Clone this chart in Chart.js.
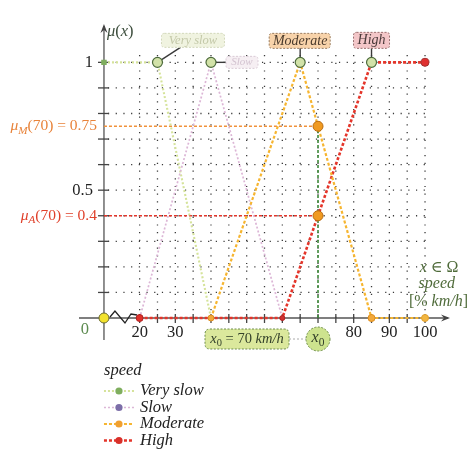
<!DOCTYPE html>
<html><head><meta charset="utf-8">
<script src="https://cdn.jsdelivr.net/npm/chart.js@4.4.1/dist/chart.umd.min.js"></script>
<style>html,body{margin:0;padding:0;background:#fff;}canvas{display:block;}</style>
</head><body>
<canvas id="c" width="474" height="474" style="width:474px;height:474px"></canvas>
<script>
// ---- data ----
const seriesNames = ['Very slow', 'Slow', 'Moderate', 'High'];
const verySlowX = [0, 25, 40];
const verySlowY = [1, 1, 0];
const slowX = [20, 40, 60];
const slowY = [0, 1, 0];
const moderateX = [40, 65, 85, 100];
const moderateY = [0, 1, 0, 0];
const highX = [20, 60, 85, 100];
const highY = [0, 0, 1, 1];
const x0Value = 70;
const muModerate = 0.75;
const muHigh = 0.4;
const xTickLabels = [20, 30, 80, 90, 100];
const xTickMarks = [20, 25, 30, 35, 40, 45, 50, 55, 60, 65, 70, 75, 80, 85, 90, 95, 100];
const yGridValues = [0.1, 0.2, 0.3, 0.4, 0.5, 0.6, 0.7, 0.8, 0.9, 1.0];
const yTickLabels = [0.5, 1];

// axis break: 0..20 is compressed
function bx(v) { return v >= 20 ? v : 10 + v * 0.5; }
function pts(xs, ys) { return xs.map((x, i) => ({ x: bx(x), y: ys[i] })); }

const SERIF = "'Liberation Serif','DejaVu Serif',serif";
const peakBg = '#d2e2a8', peakBorder = '#4d6b3c';

const lineColors = ['#d5e39a', '#dcb6d6', '#f6b530', '#e4352a'];
const markColors = ['#7fae5e', '#7c6ea8', '#f0a030', '#d9302a'];

const datasets = [
  { label: seriesNames[2], data: pts(moderateX, moderateY), borderColor: lineColors[2], borderWidth: 2.2, borderDash: [3, 2],
    pointRadius: [3, 5, 3.5, 3.5], pointBackgroundColor: ['#f2a93b', peakBg, '#f2a93b', '#f2b640'],
    pointBorderColor: ['#e09020', peakBorder, '#e09020', '#e0a030'], pointBorderWidth: [1, 1.2, 1, 1], order: 1 },
  { label: seriesNames[3], data: pts(highX, highY), borderColor: lineColors[3], borderWidth: 2.6, borderDash: [3, 2],
    pointRadius: [3.5, 2.5, 5, 4], pointBackgroundColor: ['#e0302a', '#d03030', peakBg, '#e03030'],
    pointBorderColor: ['#b02020', '#b02020', peakBorder, '#a03030'], pointBorderWidth: [1, 1, 1.2, 1], order: 2 },
  { label: seriesNames[1], data: pts(slowX, slowY), borderColor: lineColors[1], borderWidth: 1.7, borderDash: [2, 2],
    pointRadius: [0, 5, 0], pointBackgroundColor: peakBg, pointBorderColor: peakBorder, pointBorderWidth: 1.2, order: 3 },
  { label: seriesNames[0], data: pts(verySlowX, verySlowY), borderColor: lineColors[0], borderWidth: 2.1, borderDash: [2, 2],
    pointRadius: [3, 5, 0], pointStyle: ['rect', 'circle', 'circle'], pointBackgroundColor: ['#7fae5e', peakBg, peakBg],
    pointBorderColor: ['#7fae5e', peakBorder, peakBorder], pointBorderWidth: 1.2, order: 4 },
  // guide lines at x0
  { label: 'guideM', data: [{ x: bx(0), y: muModerate }, { x: x0Value, y: muModerate }], borderColor: '#f0913a', borderWidth: 1.3,
    borderDash: [3, 2], pointRadius: 0, order: 6 },
  { label: 'guideA', data: [{ x: bx(0), y: muHigh }, { x: x0Value, y: muHigh }], borderColor: '#e4352a', borderWidth: 1.3,
    borderDash: [3, 2], pointRadius: 0, order: 6 },
  { label: 'guideX', data: [{ x: x0Value, y: 0 }, { x: x0Value, y: muModerate }], borderColor: '#3f8a3a', borderWidth: 1.6,
    borderDash: [3, 2], pointRadius: 0, order: 5 },
  { label: 'x0pts', data: [{ x: x0Value, y: muModerate }, { x: x0Value, y: muHigh }], showLine: false, pointRadius: 5,
    pointBackgroundColor: '#f09a20', pointBorderColor: '#b86a10', pointBorderWidth: 1, order: 0 }
];

function font(size, italic) { return (italic ? 'italic ' : '') + size + 'px ' + SERIF; }

// parts: [text, style] ; style: 'r','i','sr','si'
function rich(ctx, parts, x, y, align, color, size) {
  const sub = size * 0.72;
  let w = 0;
  parts.forEach(p => { ctx.font = font(p[1][0] === 's' ? sub : size, p[1].indexOf('i') >= 0); w += ctx.measureText(p[0]).width; });
  let sx = align === 'right' ? x - w : align === 'center' ? x - w / 2 : x;
  ctx.fillStyle = color; ctx.textBaseline = 'middle'; ctx.textAlign = 'left';
  parts.forEach(p => {
    const isSub = p[1][0] === 's';
    ctx.font = font(isSub ? sub : size, p[1].indexOf('i') >= 0);
    ctx.fillText(p[0], sx, y + (isSub ? size * 0.28 : 0));
    sx += ctx.measureText(p[0]).width;
  });
}

function roundRect(ctx, x, y, w, h, r, fill, stroke) {
  ctx.beginPath();
  ctx.moveTo(x + r, y); ctx.lineTo(x + w - r, y); ctx.quadraticCurveTo(x + w, y, x + w, y + r);
  ctx.lineTo(x + w, y + h - r); ctx.quadraticCurveTo(x + w, y + h, x + w - r, y + h);
  ctx.lineTo(x + r, y + h); ctx.quadraticCurveTo(x, y + h, x, y + h - r);
  ctx.lineTo(x, y + r); ctx.quadraticCurveTo(x, y, x + r, y); ctx.closePath();
  ctx.fillStyle = fill; ctx.fill();
  ctx.setLineDash([2, 1.5]); ctx.strokeStyle = stroke; ctx.lineWidth = 1; ctx.stroke(); ctx.setLineDash([]);
}

const decor = {
  id: 'decor',
  beforeDatasetsDraw(chart) {
    const ctx = chart.ctx, xs = chart.scales.x, ys = chart.scales.y;
    const X = v => xs.getPixelForValue(v), Y = v => ys.getPixelForValue(v);
    ctx.save();
    // grid
    ctx.strokeStyle = '#3a3a3a'; ctx.lineWidth = 1.3; ctx.setLineDash([1.2, 6.5]);
    xTickMarks.forEach(v => { ctx.beginPath(); ctx.moveTo(X(v), Y(0)); ctx.lineTo(X(v), Y(1.04)); ctx.stroke(); });
    yGridValues.forEach(v => { ctx.beginPath(); ctx.moveTo(X(bx(0)) + 4, Y(v)); ctx.lineTo(X(100) + 1, Y(v)); ctx.stroke(); });
    ctx.setLineDash([]);
    // axes
    ctx.strokeStyle = '#555'; ctx.lineWidth = 1.3;
    const ox = X(bx(0)), oy = Y(0);
    ctx.beginPath(); ctx.moveTo(X(3), oy); ctx.lineTo(X(107) - 2, oy); ctx.stroke();
    ctx.beginPath(); ctx.moveTo(ox, Y(-0.086)); ctx.lineTo(ox, Y(1.15) + 2); ctx.stroke();
    ctx.fillStyle = '#444';
    ctx.beginPath(); ctx.moveTo(X(107), oy); ctx.lineTo(X(107) - 9, oy - 3.5); ctx.lineTo(X(107) - 6, oy); ctx.lineTo(X(107) - 9, oy + 3.5); ctx.closePath(); ctx.fill();
    ctx.beginPath(); ctx.moveTo(ox, Y(1.15)); ctx.lineTo(ox - 3.5, Y(1.15) + 9); ctx.lineTo(ox, Y(1.15) + 6); ctx.lineTo(ox + 3.5, Y(1.15) + 9); ctx.closePath(); ctx.fill();
    // ticks
    ctx.strokeStyle = '#444'; ctx.lineWidth = 1.3;
    xTickMarks.forEach(v => { ctx.beginPath(); ctx.moveTo(X(v), oy - 4); ctx.lineTo(X(v), oy + 5); ctx.stroke(); });
    yGridValues.forEach(v => { ctx.beginPath(); ctx.moveTo(ox - 6, Y(v)); ctx.lineTo(ox + 5, Y(v)); ctx.stroke(); });
    // axis-break zigzag
    ctx.strokeStyle = '#222'; ctx.lineWidth = 1.3;
    ctx.beginPath(); ctx.moveTo(ox + 6, oy - 1); ctx.lineTo(ox + 11, oy - 7); ctx.lineTo(ox + 21, oy + 5);
    ctx.lineTo(ox + 27, oy - 4); ctx.lineTo(ox + 33, oy - 3); ctx.stroke();
    // connectors of annotation boxes
    ctx.strokeStyle = '#3a3a3a'; ctx.lineWidth = 1.4;
    ctx.beginPath(); ctx.moveTo(X(25), Y(1)); ctx.lineTo(X(25) + 23, Y(1) - 15); ctx.stroke();
    ctx.beginPath(); ctx.moveTo(X(40), Y(1)); ctx.lineTo(X(40) + 16, Y(1)); ctx.stroke();
    ctx.beginPath(); ctx.moveTo(X(65), Y(1)); ctx.lineTo(X(65), Y(1) - 16); ctx.stroke();
    ctx.beginPath(); ctx.moveTo(X(85), Y(1)); ctx.lineTo(X(85), Y(1) - 16); ctx.stroke();
    ctx.restore();
  },
  afterDraw(chart) {
    const ctx = chart.ctx, xs = chart.scales.x, ys = chart.scales.y;
    const X = v => xs.getPixelForValue(v), Y = v => ys.getPixelForValue(v);
    const ox = X(bx(0)), oy = Y(0);
    ctx.save();
    // origin marker
    ctx.beginPath(); ctx.arc(ox, oy, 5, 0, Math.PI * 2); ctx.fillStyle = '#f2e22c'; ctx.fill();
    ctx.strokeStyle = '#6a6a30'; ctx.lineWidth = 1; ctx.stroke();
    // x tick labels
    xTickLabels.forEach(v => rich(ctx, [[String(v), 'r']], X(v), oy + 15, 'center', '#222', 16.5));
    rich(ctx, [['0', 'r']], ox - 19, oy + 12, 'center', '#5b8a4e', 16.5);
    // y labels
    yTickLabels.forEach(v => rich(ctx, [[String(v), 'r']], ox - 11, Y(v), 'right', '#222', 16.5));
    rich(ctx, [['μ', 'i'], ['M', 'si'], ['(70) = 0.75', 'r']], ox - 7, Y(muModerate), 'right', '#e8833a', 15.5);
    rich(ctx, [['μ', 'i'], ['A', 'si'], ['(70) = 0.4', 'r']], ox - 7, Y(muHigh), 'right', '#e0402a', 15.5);
    rich(ctx, [['μ', 'i'], ['(', 'r'], ['x', 'i'], [')', 'r']], ox + 3, Y(1.15) + 8, 'left', '#3c4d3c', 16.5);
    // right axis title
    rich(ctx, [['x', 'i'], [' ∈ Ω', 'r']], X(98.5), oy - 50, 'left', '#4f6b3a', 16);
    rich(ctx, [['speed', 'i']], X(98.2), oy - 34, 'left', '#4f6b3a', 16);
    rich(ctx, [['[% ', 'r'], ['km/h', 'i'], [']', 'r']], X(107) + 18, oy - 16, 'right', '#4f6b3a', 16);
    // annotation boxes
    roundRect(ctx, X(25) + 4, Y(1) - 29, 63, 14, 3, '#f0f3e0', '#d3d8bb');
    rich(ctx, [['Very slow', 'i']], X(25) + 35.5, Y(1) - 22, 'center', '#c3c8a8', 12.5);
    roundRect(ctx, X(40) + 15, Y(1) - 6, 32, 12, 3, '#f6eff3', '#dacbd6');
    rich(ctx, [['Slow', 'i']], X(40) + 31, Y(1), 'center', '#d3c3d0', 11);
    roundRect(ctx, X(65) - 31, Y(1) - 29, 61, 15, 3, '#f8d3aa', '#9a7d60');
    rich(ctx, [['Moderate', 'i']], X(65), Y(1) - 21.5, 'center', '#4a3a2c', 14);
    roundRect(ctx, X(85) - 18, Y(1) - 30, 36, 16, 3, '#f3c6c8', '#9a7070');
    rich(ctx, [['High', 'i']], X(85), Y(1) - 22, 'center', '#4a3a3a', 14);
    // x0 box
    const cx = X(x0Value), cy = oy + 21;
    ctx.strokeStyle = '#aaa'; ctx.lineWidth = 1; ctx.setLineDash([2, 2]);
    ctx.beginPath(); ctx.moveTo(cx - 29, cy); ctx.lineTo(cx - 12, cy); ctx.stroke(); ctx.setLineDash([]);
    roundRect(ctx, cx - 113, cy - 10, 84, 20, 5, '#dbe89c', '#6f8f4c');
    rich(ctx, [['x', 'i'], ['0', 'sr'], [' = 70 ', 'r'], ['km/h', 'i']], cx - 71, cy, 'center', '#33402a', 14.5);
    ctx.beginPath(); ctx.arc(cx, cy, 12, 0, Math.PI * 2); ctx.fillStyle = '#cde38e'; ctx.fill();
    ctx.setLineDash([2, 1.5]); ctx.strokeStyle = '#6f8f4c'; ctx.lineWidth = 1; ctx.stroke(); ctx.setLineDash([]);
    rich(ctx, [['x', 'i'], ['0', 'sr']], cx, cy - 1, 'center', '#33402a', 16);
    // legend
    const lx = ox, ly = oy + 53;
    rich(ctx, [['speed', 'i']], lx, ly, 'left', '#222', 16.5);
    const dashes = [[2, 2], [2, 2], [3, 2], [3, 2]];
    const widths = [2, 1.7, 2.2, 2.6];
    seriesNames.forEach((name, i) => {
      const y = ly + 20 + i * 16.5;
      ctx.strokeStyle = lineColors[i]; ctx.lineWidth = widths[i]; ctx.setLineDash(dashes[i]);
      ctx.beginPath(); ctx.moveTo(lx, y); ctx.lineTo(lx + 30, y); ctx.stroke(); ctx.setLineDash([]);
      ctx.beginPath(); ctx.arc(lx + 15, y, 3.6, 0, Math.PI * 2); ctx.fillStyle = markColors[i]; ctx.fill();
      rich(ctx, [[name, 'i']], lx + 36, y, 'left', '#222', 16.5);
    });
    ctx.restore();
  }
};

new Chart(document.getElementById('c'), {
  type: 'scatter',
  data: { datasets: datasets.map(d => Object.assign({ showLine: true, fill: false, tension: 0 }, d)) },
  options: {
    responsive: false, animation: false, devicePixelRatio: 1,
    layout: { padding: { left: 79, right: 24, top: 24, bottom: 134 } },
    plugins: { legend: { display: false }, tooltip: { enabled: false } },
    scales: {
      x: { type: 'linear', min: 3, max: 107, display: false },
      y: { type: 'linear', min: -0.086, max: 1.15, display: false }
    }
  },
  plugins: [decor]
});
</script>
</body></html>
